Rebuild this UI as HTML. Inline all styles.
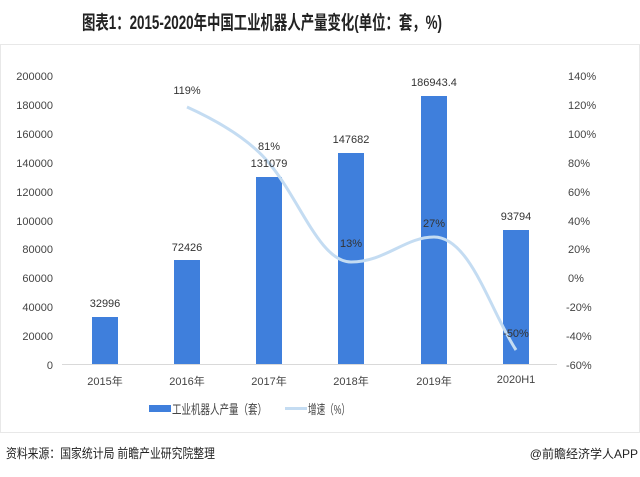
<!DOCTYPE html>
<html><head><meta charset="utf-8"><style>
body{margin:0;background:#fff;width:640px;height:472px;overflow:hidden;font-family:"Liberation Sans","Noto Sans CJK SC",sans-serif}
</style></head><body>
<svg width="640" height="472" xmlns="http://www.w3.org/2000/svg" font-family="Liberation Sans, Noto Sans CJK SC, sans-serif">
<text x="82" y="29" font-size="19" font-weight="bold" fill="#222" textLength="360" lengthAdjust="spacingAndGlyphs">图表1：2015-2020年中国工业机器人产量变化(单位：套，%)</text>
<rect x="0.5" y="44.5" width="639" height="388" fill="#fff" stroke="#e8e8e8"/>
<g font-size="11" fill="#444" text-anchor="end">
<text x="53" y="80">200000</text><text x="53" y="109">180000</text><text x="53" y="138">160000</text><text x="53" y="167">140000</text><text x="53" y="196">120000</text><text x="53" y="225">100000</text><text x="53" y="253">80000</text><text x="53" y="282">60000</text><text x="53" y="311">40000</text><text x="53" y="340">20000</text><text x="53" y="369">0</text>
</g>
<g font-size="11" fill="#444">
<text x="568" y="80">140%</text><text x="568" y="109">120%</text><text x="568" y="138">100%</text><text x="568" y="167">80%</text><text x="568" y="196">60%</text><text x="568" y="225">40%</text><text x="568" y="253">20%</text><text x="568" y="282">0%</text><text x="566" y="311">-20%</text><text x="566" y="340">-40%</text><text x="566" y="369">-60%</text>
</g>
<line x1="62" y1="364.5" x2="557" y2="364.5" stroke="#d9d9d9"/>
<g fill="#3f7fdc">
<rect x="92" y="317" width="26" height="47"/>
<rect x="174" y="260" width="26" height="104"/>
<rect x="256" y="177" width="26" height="187"/>
<rect x="338" y="153" width="26" height="211"/>
<rect x="421" y="96" width="26" height="268"/>
<rect x="503" y="230" width="26" height="134"/>
</g>
<path d="M187,107 C220,122 250,140 269,163 C300,200 320,262 351,262 C385,262 405,237 434,237 C470,237 490,310 516,350" fill="none" stroke="#c4dcf2" stroke-width="3"/>
<g font-size="11" fill="#333" text-anchor="middle">
<text x="105" y="307">32996</text><text x="187" y="251">72426</text><text x="269" y="167">131079</text><text x="351" y="143">147682</text><text x="434" y="86">186943.4</text><text x="516" y="220">93794</text>
<text x="187" y="94">119%</text><text x="269" y="150">81%</text><text x="351" y="247">13%</text><text x="434" y="227">27%</text><text x="516" y="337">-50%</text>
</g>
<g font-size="11" fill="#444" text-anchor="middle">
<text x="105" y="385">2015年</text><text x="187" y="385">2016年</text><text x="269" y="385">2017年</text><text x="351" y="385">2018年</text><text x="434" y="385">2019年</text><text x="516" y="383">2020H1</text>
</g>
<rect x="149" y="405" width="22" height="7" fill="#3f7fdc"/>
<text x="172" y="414" font-size="13" fill="#444" textLength="95" lengthAdjust="spacingAndGlyphs">工业机器人产量（套）</text>
<line x1="285" y1="408.5" x2="307" y2="408.5" stroke="#c4dcf2" stroke-width="3"/>
<text x="308" y="414" font-size="13" fill="#444" textLength="42" lengthAdjust="spacingAndGlyphs">增速（%）</text>
<text x="6" y="458" font-size="13" fill="#222" textLength="209" lengthAdjust="spacingAndGlyphs">资料来源：国家统计局 前瞻产业研究院整理</text>
<text x="638" y="458" font-size="12" fill="#222" text-anchor="end">@前瞻经济学人APP</text>
</svg>
</body></html>
